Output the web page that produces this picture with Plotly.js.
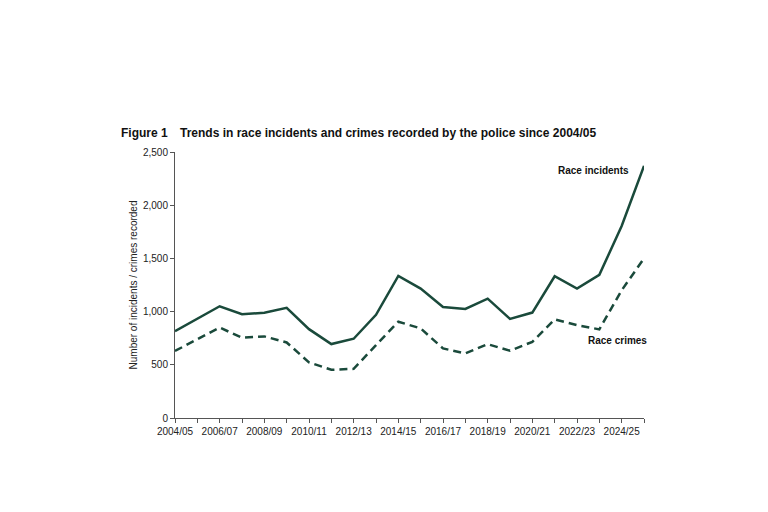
<!DOCTYPE html>
<html>
<head>
<meta charset="utf-8">
<script src="https://cdn.plot.ly/plotly-3.0.1.min.js"></script>
<style>html,body{margin:0;padding:0;background:#fff;}#chart{width:768px;height:512px;}</style>
</head>
<body>
<div id="chart"></div>
<script>
const years = ["2004/05","2005/06","2006/07","2007/08","2008/09","2009/10","2010/11","2011/12","2012/13","2013/14","2014/15","2015/16","2016/17","2017/18","2018/19","2019/20","2020/21","2021/22","2022/23","2023/24","2024/25","2025/26"];
const raceIncidents = [815, 935, 1050, 975, 990, 1035, 835, 695, 745, 970, 1335, 1216, 1044, 1025, 1122, 931, 991, 1332, 1216, 1345, 1805, 2370];
const raceCrimes = [630, 740, 850, 755, 767, 710, 523, 453, 462, 685, 905, 842, 654, 607, 694, 632, 716, 926, 873, 833, 1200, 1500];
const xTickLabels = ["2004/05","","2006/07","","2008/09","","2010/11","","2012/13","","2014/15","","2016/17","","2018/19","","2020/21","","2022/23","","2024/25",""];
const yTicks = [0, 500, 1000, 1500, 2000, 2500];

const lineColor = "#1a4a3b";
const font = "Liberation Sans, Arial, sans-serif";

const traces = [
  {x: years, y: raceIncidents, type: "scatter", mode: "lines", name: "Race incidents",
   line: {color: lineColor, width: 2.5}},
  {x: years, y: raceCrimes, type: "scatter", mode: "lines", name: "Race crimes",
   line: {color: lineColor, width: 2.5, dash: "8px,5px"}}
];

const layout = {
  width: 768, height: 512,
  margin: {l: 175, r: 124, t: 152, b: 94},
  paper_bgcolor: "#ffffff", plot_bgcolor: "#ffffff",
  showlegend: false,
  font: {family: font, color: "#222", size: 10},
  xaxis: {
    type: "category", categoryorder: "array", categoryarray: years,
    range: [0, years.length - 1],
    tickmode: "array", tickvals: years, ticktext: xTickLabels,
    ticks: "outside", ticklen: 4, tickcolor: "#555", tickwidth: 1,
    showline: true, linecolor: "#555", linewidth: 1,
    showgrid: false, zeroline: false,
    tickfont: {family: font, size: 10, color: "#222"}
  },
  yaxis: {
    range: [0, 2500], tickmode: "array", tickvals: yTicks, tickformat: ",",
    ticks: "outside", ticklen: 4, tickcolor: "#555", tickwidth: 1,
    showline: true, linecolor: "#555", linewidth: 1,
    showgrid: false, zeroline: false,
    tickfont: {family: font, size: 10, color: "#222"},
    title: {text: "Number of incidents / crimes recorded", font: {family: font, size: 10, color: "#222"}, standoff: 3}
  },
  annotations: [
    {text: "<b>Figure 1</b>", xref: "paper", yref: "paper", x: (119 - 175) / 469, y: (418 - 133) / 266,
     xanchor: "left", yanchor: "middle", showarrow: false, font: {family: font, size: 12, color: "#111"}},
    {text: "<b>Trends in race incidents and crimes recorded by the police since 2004/05</b>", xref: "paper", yref: "paper",
     x: (178 - 175) / 469, y: (418 - 133) / 266, xanchor: "left", yanchor: "middle", showarrow: false,
     font: {family: font, size: 12, color: "#111"}},
    {text: "<b>Race incidents</b>", xref: "paper", yref: "paper", x: (631 - 175) / 469, y: (418 - 170) / 266,
     xanchor: "right", yanchor: "middle", showarrow: false, font: {family: font, size: 10, color: "#111"}},
    {text: "<b>Race crimes</b>", xref: "paper", yref: "paper", x: (649 - 175) / 469, y: (418 - 340) / 266,
     xanchor: "right", yanchor: "middle", showarrow: false, font: {family: font, size: 10, color: "#111"}}
  ]
};

Plotly.newPlot("chart", traces, layout, {displayModeBar: false, staticPlot: true});
</script>
</body>
</html>
